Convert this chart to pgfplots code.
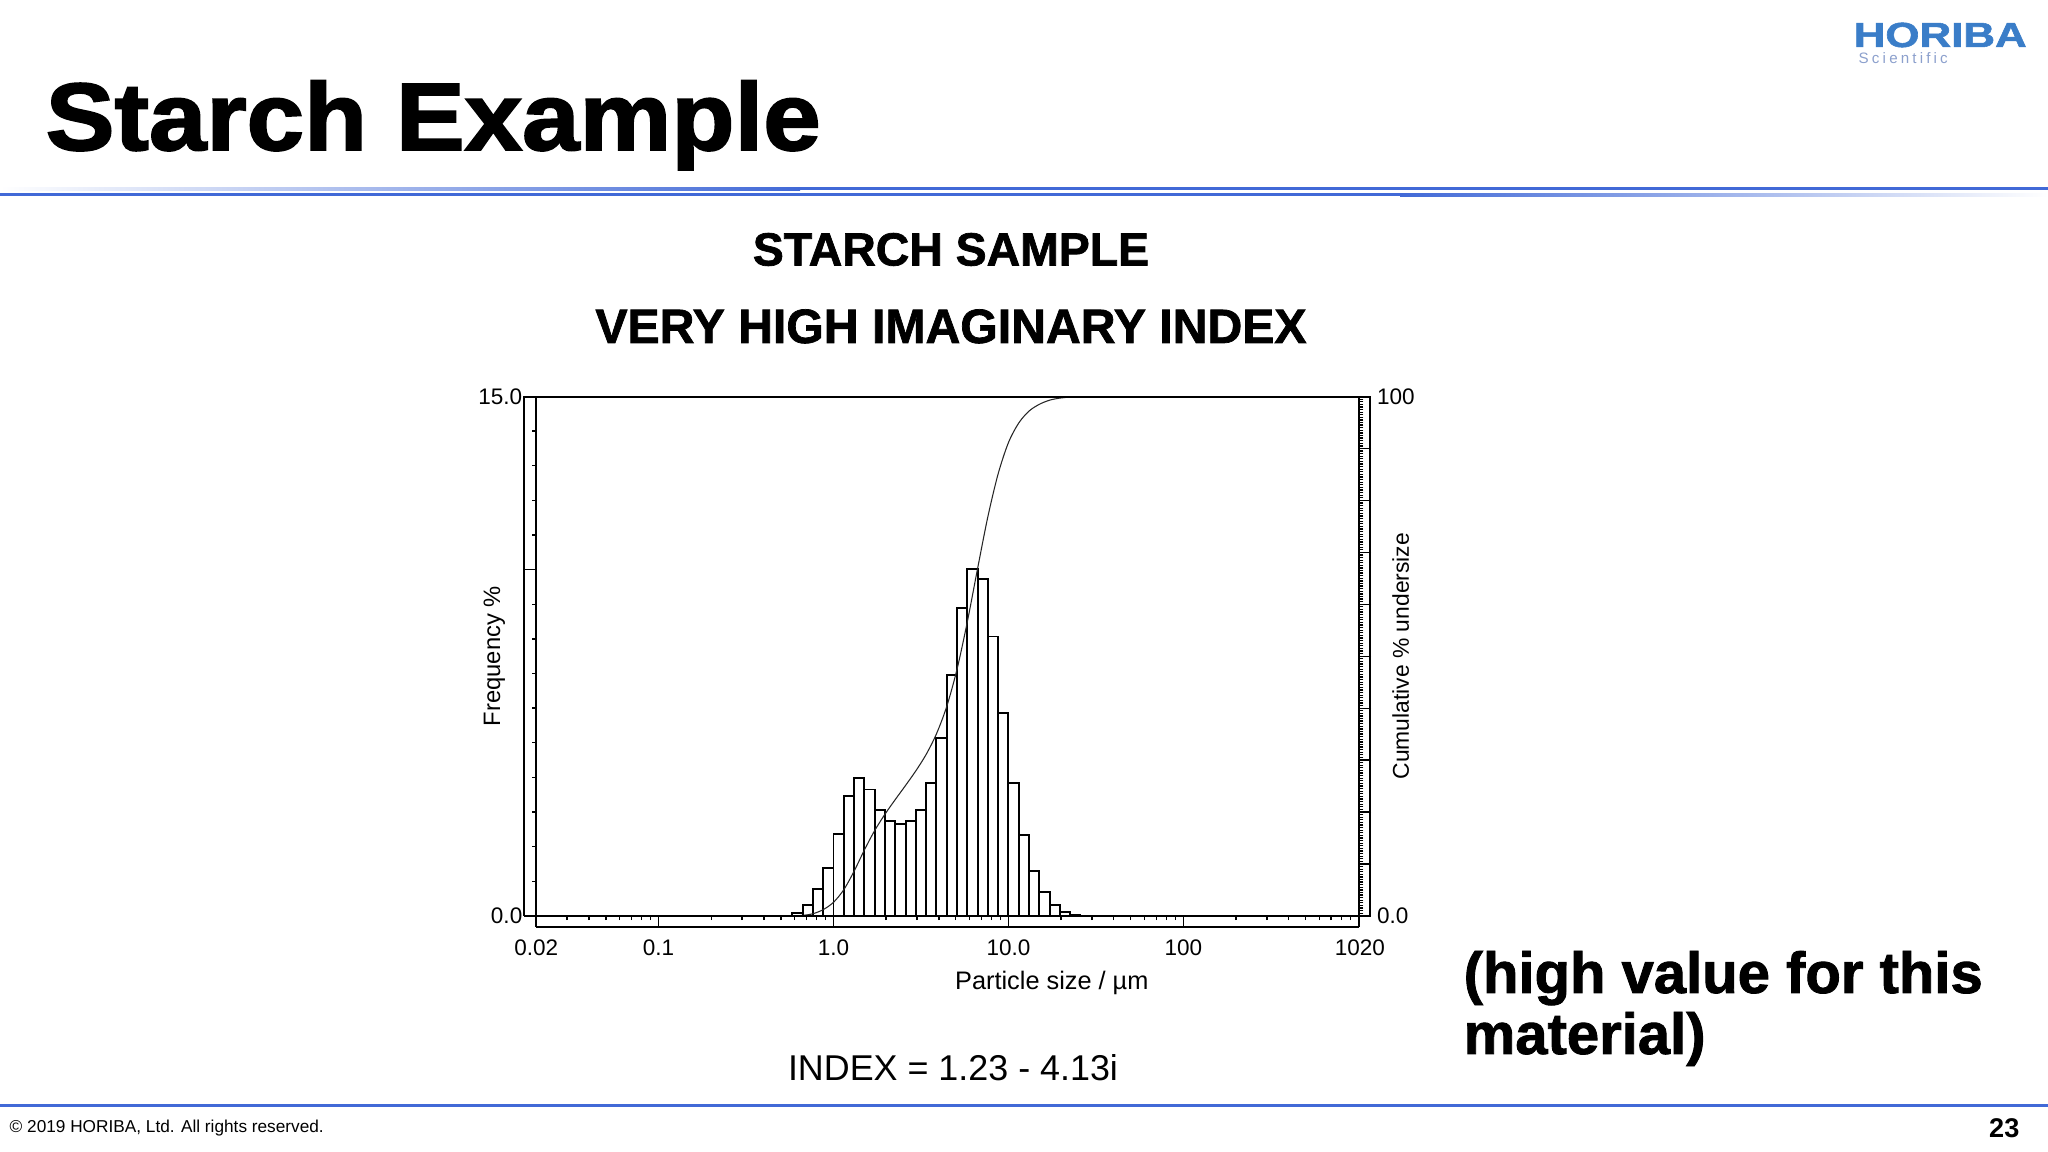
\documentclass[border=0pt]{standalone}
\usepackage{fontspec}
\usepackage{pgfplots}
\pgfplotsset{compat=1.18}
\setmainfont{Liberation Sans}
\newfontfamily\titlefont{Liberation Sans Bold}[FakeBold=2,FakeStretch=1.08]
\newfontfamily\headfont{Liberation Sans Bold}[FakeBold=1.5]
\newfontfamily\logofont{Liberation Sans Bold}[FakeBold=1.5]
\definecolor{hblue}{RGB}{58,125,200}
\definecolor{lineblue}{RGB}{65,105,215}
\definecolor{sciblue}{RGB}{140,160,205}
\begin{document}
\begin{tikzpicture}[x=0.01cm,y=0.01cm]
\fill[white] (0,0) rectangle (2048,1152);
% title
\node[anchor=base west,inner sep=0] at (45,1002) {\titlefont\fontsize{27.2pt}{30pt}\selectfont Starch Example};
% header lines
\shade[left color=white,right color=lineblue] (0,961.5) rectangle (800,964.5);
\fill[lineblue] (799,961.5) rectangle (2048,964.5);
\fill[lineblue] (0,955.5) rectangle (1401,958.5);
\shade[left color=lineblue,right color=white] (1400,955.5) rectangle (2048,958.5);
% footer line
\fill[lineblue] (0,44.5) rectangle (2048,47.5);
% logo
\node[anchor=base west,inner sep=0,text=hblue] at (1853,1105) {\scalebox{1.26}[1]{\logofont\fontsize{9.9pt}{11pt}\selectfont HORIBA}};
\node[anchor=base west,inner sep=0,text=sciblue] at (1858,1088) {\fontsize{4.3pt}{5pt}\selectfont\addfontfeature{LetterSpace=21}Scientific};
% headings
\node[anchor=base,inner sep=0] at (951,886.5) {\headfont\fontsize{13.2pt}{15pt}\selectfont STARCH SAMPLE};
\node[anchor=base,inner sep=0] at (951,809) {\headfont\fontsize{13.7pt}{15pt}\selectfont VERY HIGH IMAGINARY INDEX};
\node[anchor=base,inner sep=0] at (953,71) {\fontsize{10.2pt}{12pt}\selectfont INDEX = 1.23 - 4.13i};
\node[anchor=base west,inner sep=0] at (1463,159) {\headfont\fontsize{16.5pt}{18pt}\selectfont (high value for this};
\node[anchor=base west,inner sep=0] at (1463,98) {\headfont\fontsize{16.5pt}{18pt}\selectfont material)};
\node[anchor=base west,inner sep=0] at (9,19) {\fontsize{4.9pt}{6pt}\selectfont © 2019 HORIBA, Ltd. All rights reserved.};
\node[anchor=base east,inner sep=0] at (2020,14) {\bfseries\fontsize{7.7pt}{9pt}\selectfont 23};

% main axis: frequency histogram
\begin{axis}[
  at={(5.36cm,2.36cm)}, anchor=south west, scale only axis,
  width=8.23cm, height=5.19cm,
  xmode=log, xmin=0.02, xmax=1020, ymin=0, ymax=15,
  axis line style={draw=none},
  /pgf/number format/assume math mode=true,
  tick align=outside, xtick pos=bottom, ytick pos=left,
  xtick={0.1,1,10,100}, xticklabels={0.1,1.0,10.0,100},
  extra x ticks={0.02,1020}, extra x tick labels={0.02,1020},
  minor xtick={0.03,0.04,0.05,0.06,0.07,0.08,0.09,0.2,0.3,0.4,0.5,0.6,0.7,0.8,0.9,2,3,4,5,6,7,8,9,20,30,40,50,60,70,80,90,200,300,400,500,600,700,800,900,1000},
  ytick={0,10,15}, yticklabels={0.0,,15.0},
  minor ytick={1,2,3,4,5,6,7,8,9,11,12,13,14},
  major tick length=3.2pt, minor tick length=1.2pt,
  every tick/.style={black,line width=0.4pt},
  tick label style={font=\fontsize{6.4pt}{7pt}\selectfont},
  yticklabel style={inner sep=0.6pt},
  xlabel={Particle size / µm},
  every axis x label/.style={at={(axis description cs:0.626,-0.129)},anchor=center,font=\fontsize{7.2pt}{8pt}\selectfont},
  ylabel={Frequency \%},
  every axis y label/.style={at={(axis description cs:-0.051,0.5)},rotate=90,anchor=center,font=\fontsize{6.75pt}{8pt}\selectfont},
]
\addplot[ybar interval, fill=white, draw=black, line width=0.55pt] coordinates {
(0.5817,0.09) (0.6661,0.31) (0.7627,0.77) (0.8733,1.37) (1.0000,2.37)
(1.1450,3.46) (1.3111,3.98) (1.5013,3.65) (1.7190,3.07) (1.9683,2.74)
(2.2538,2.65) (2.5807,2.74) (2.9550,3.07) (3.3836,3.85) (3.8744,5.14)
(4.4363,6.96) (5.0798,8.89) (5.8166,10.01) (6.6602,9.73) (7.6262,8.07)
(8.7324,5.86) (10.000,3.85) (11.450,2.34) (13.111,1.30) (15.013,0.68)
(17.190,0.31) (19.683,0.12) (22.538,0.04) (25.807,0)
};
\end{axis}

% secondary axis: cumulative undersize
\begin{axis}[
  at={(5.36cm,2.36cm)}, anchor=south west, scale only axis,
  width=8.23cm, height=5.19cm,
  xmode=log, xmin=0.02, xmax=1020, ymin=0, ymax=100,
  axis x line=none, axis y line*=right,
  axis line style={draw=none},
  /pgf/number format/assume math mode=true,
  tick align=outside, ytick pos=right,
  ytick={0,10,20,30,40,50,60,70,80,90,100}, yticklabels={0.0,,,,,,,,,,100},
  minor y tick num=19,
  major tick length=3.2pt, minor tick length=1.0pt,
  every tick/.style={black,line width=0.35pt},
  tick label style={font=\fontsize{6.4pt}{7pt}\selectfont},
  yticklabel style={inner sep=1.5pt},
  ylabel={Cumulative \% undersize},
  every axis y label/.style={at={(axis description cs:1.0498,0.5)},rotate=90,anchor=center,font=\fontsize{6.5pt}{8pt}\selectfont},
]
\addplot[smooth, tension=0.5, black!85, line width=0.3pt] coordinates {
(0.5817,0) (0.6661,0.09) (0.7627,0.41) (0.8733,1.2) (1.0,2.61)
(1.145,5.04) (1.3111,8.59) (1.5013,12.68) (1.719,16.42) (1.9683,19.57)
(2.2538,22.39) (2.5807,25.11) (2.955,27.92) (3.3836,31.07) (3.8744,35.02)
(4.4363,40.3) (5.0798,47.45) (5.8166,56.57) (6.6602,66.85) (7.6262,76.84)
(8.7324,85.12) (10,91.13) (11.45,94.9) (13.111,97.2) (15.013,98.5)
(17.19,99.3) (19.683,99.7) (22.538,99.9) (25.807,100)
};
\end{axis}

% frame and axis strips
\draw[line width=0.3pt] (536,755) -- (1359,755);
\draw[line width=0.3pt] (524,236) -- (524,755) -- (536,755);
\draw[line width=0.3pt] (524,236) -- (536,236);
\draw[line width=0.3pt] (1359,755) -- (1370,755) -- (1370,236) -- (1359,236);
\draw[line width=0.75pt] (536,225) -- (536,755);
\draw[line width=0.75pt] (1359,225) -- (1359,755);
\draw[line width=0.65pt] (536,236) -- (1359,236);
\draw[line width=0.65pt] (536,225) -- (1359,225);
\end{tikzpicture}
\end{document}
